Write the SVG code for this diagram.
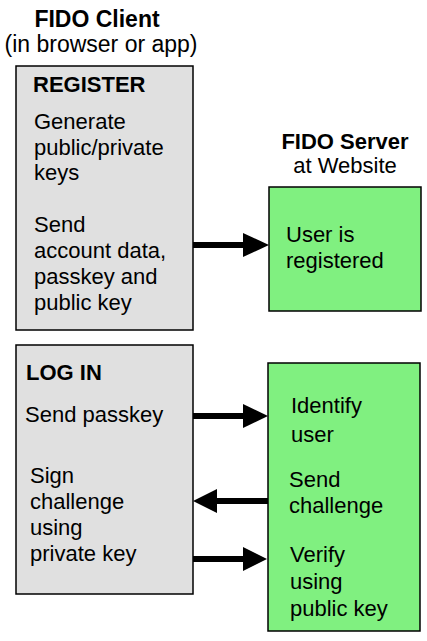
<svg xmlns="http://www.w3.org/2000/svg" width="427" height="641" viewBox="0 0 427 641">
<defs>
<style>
text{font-family:"Liberation Sans",Arial,sans-serif;font-size:22px;fill:#000}
.b{font-weight:bold}
.c{text-anchor:middle}
.t{font-size:23px}
.client{fill:#e0e0e0;stroke:#000;stroke-width:1.5}
.server{fill:#80f080;stroke:#000;stroke-width:1.5}
.ln{stroke:#000;stroke-width:6;fill:none}
.hd{fill:#000}
</style>
</defs>
<rect width="427" height="641" fill="#fff"/>
<g id="title-client">
<text class="b c t" x="97" y="27">FIDO Client</text>
<text class="c t" x="101" y="52">(in browser or app)</text>
</g>
<g id="title-server">
<text class="b c" x="345" y="149">FIDO Server</text>
<text class="c" x="345" y="173">at Website</text>
</g>
<g id="register">
<rect class="client" x="16" y="66" width="177" height="264"/>
<text class="b" x="33" y="92">REGISTER</text>
<text x="34" y="129">Generate</text>
<text x="34" y="155">public/private</text>
<text x="34" y="180">keys</text>
<text x="34" y="232">Send</text>
<text x="34" y="258">account data,</text>
<text x="34" y="284">passkey and</text>
<text x="34" y="310">public key</text>
</g>
<g id="registered">
<rect class="server" x="269" y="187" width="152" height="124"/>
<text x="286" y="242">User is</text>
<text x="286" y="268">registered</text>
</g>
<g id="login">
<rect class="client" x="16" y="345" width="177" height="249"/>
<text class="b" x="26" y="380">LOG IN</text>
<text x="25" y="422">Send passkey</text>
<text x="30" y="483">Sign</text>
<text x="30" y="509">challenge</text>
<text x="30" y="535">using</text>
<text x="30" y="561">private key</text>
</g>
<g id="server-login">
<rect class="server" x="268" y="363" width="152" height="268"/>
<text x="291" y="413">Identify</text>
<text x="291" y="442">user</text>
<text x="289" y="487">Send</text>
<text x="289" y="513">challenge</text>
<text x="290" y="562">Verify</text>
<text x="290" y="589">using</text>
<text x="290" y="616">public key</text>
</g>
<g id="connectors">
<line class="ln" x1="193" y1="245" x2="246" y2="245"/>
<polygon class="hd" points="243,233 269,245 243,257"/>
<line class="ln" x1="193" y1="416" x2="246" y2="416"/>
<polygon class="hd" points="243,404 268,416 243,428"/>
<line class="ln" x1="214" y1="501" x2="268" y2="501"/>
<polygon class="hd" points="217,489 193,501 217,513"/>
<line class="ln" x1="193" y1="559" x2="246" y2="559"/>
<polygon class="hd" points="243,547 267,559 243,571"/>
</g>
</svg>
